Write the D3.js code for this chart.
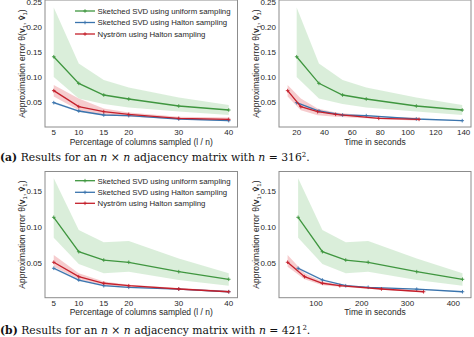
<!DOCTYPE html>
<html>
<head>
    <meta charset="UTF-8">
    <script src="https://d3js.org/d3.v7.min.js"></script>
    <style type="text/css">
        body { margin: 0; background: #fff; }
        svg text { font-family: "Liberation Sans", Arial, sans-serif; }
        svg text.caption { font-family: "DejaVu Serif", "Liberation Serif", serif; }
    </style>
</head>
<body>
<script type="text/javascript">
    // Percentage of columns sampled
    var pct = [5, 10, 15, 20, 30, 40];

    // --- n = 316^2 ---
    var aGreen    = [0.1405, 0.0873, 0.0640, 0.0560, 0.0420, 0.0340];
    var aGreenHi  = [0.2390, 0.1270, 0.0940, 0.0790, 0.0590, 0.0440];
    var aGreenLo  = [0.1000, 0.0570, 0.0460, 0.0390, 0.0310, 0.0240];
    var aBlue     = [0.0487, 0.0320, 0.0240, 0.0227, 0.0160, 0.0127];
    var aBlueHi   = [0.0510, 0.0340, 0.0255, 0.0240, 0.0170, 0.0137];
    var aBlueLo   = [0.0465, 0.0300, 0.0225, 0.0215, 0.0150, 0.0117];
    var aRed      = [0.0727, 0.0407, 0.0307, 0.0253, 0.0173, 0.0153];
    var aRedHi    = [0.0840, 0.0570, 0.0370, 0.0290, 0.0207, 0.0190];
    var aRedLo    = [0.0610, 0.0333, 0.0233, 0.0207, 0.0160, 0.0127];
    var aTimeSvd  = [20, 36, 53, 70, 106, 139];
    var aTimeNys  = [13.5, 23, 35, 48, 79, 108];

    // --- n = 421^2 ---
    var bGreen    = [0.1138, 0.0663, 0.0548, 0.0517, 0.0387, 0.0282];
    var bGreenHi  = [0.1677, 0.0963, 0.0793, 0.0810, 0.0570, 0.0364];
    var bGreenLo  = [0.0857, 0.0493, 0.0364, 0.0387, 0.0272, 0.0193];
    var bBlue     = [0.0434, 0.0272, 0.0193, 0.0171, 0.0145, 0.0110];
    var bBlueHi   = [0.0450, 0.0285, 0.0203, 0.0180, 0.0152, 0.0117];
    var bBlueLo   = [0.0418, 0.0259, 0.0183, 0.0162, 0.0138, 0.0103];
    var bRed      = [0.0517, 0.0318, 0.0227, 0.0193, 0.0148, 0.0110];
    var bRedHi    = [0.0617, 0.0364, 0.0250, 0.0206, 0.0160, 0.0125];
    var bRedLo    = [0.0456, 0.0282, 0.0199, 0.0180, 0.0138, 0.0102];
    var bTimeSvd  = [61, 114, 165, 214, 320, 420];
    var bTimeNys  = [38, 75, 114, 152, 243, 335];

    var seriesNames = ["Sketched SVD using uniform sampling",
                       "Sketched SVD using Halton sampling",
                       "Nyström using Halton sampling"];
    var lineColors = ["#3f963f", "#3a74ad", "#c41f2b"];
    var bandColors = ["#d3ebd3", "#c9d9ea", "#f5c3c6"];

    var pctTicks = [5, 10, 15, 20, 30, 40];
    var timeTicksA = [20, 40, 60, 80, 100, 120, 140];
    var timeTicksB = [100, 200, 300, 400];
    var errTicksA = [0.05, 0.10, 0.15, 0.20, 0.25];
    var errTicksB = [0.05, 0.10, 0.15];

    var svg = d3.select("body").append("svg")
        .attr("width", 474).attr("height", 337);

    function series(xs, xsNys, set) {
        return [
            { x: xs, y: set[0], hi: set[1], lo: set[2] },
            { x: xs, y: set[3], hi: set[4], lo: set[5] },
            { x: xsNys, y: set[6], hi: set[7], lo: set[8] }
        ];
    }

    var setA = [aGreen, aGreenHi, aGreenLo, aBlue, aBlueHi, aBlueLo, aRed, aRedHi, aRedLo];
    var setB = [bGreen, bGreenHi, bGreenLo, bBlue, bBlueHi, bBlueLo, bRed, bRedHi, bRedLo];

    var panels = [
        { left: 45, right: 237.5, top: 0, bottom: 127, xd: [3.25, 41.75], yd: [0, 0.254],
          xt: pctTicks, yt: errTicksA, xlabel: "Percentage of columns sampled (l / n)",
          data: series(pct, pct, setA), legend: true },
        { left: 279, right: 471, top: 0, bottom: 127, xd: [7.3, 145.3], yd: [0, 0.254],
          xt: timeTicksA, yt: errTicksA, xlabel: "Time in seconds",
          data: series(aTimeSvd, aTimeNys, setA), legend: false },
        { left: 45, right: 237.5, top: 171.5, bottom: 297.7, xd: [3.25, 41.75], yd: [0.00276, 0.1771],
          xt: pctTicks, yt: errTicksB, xlabel: "Percentage of columns sampled (l / n)",
          data: series(pct, pct, setB), legend: true },
        { left: 279, right: 471, top: 171.5, bottom: 297.7, xd: [19.2, 438.6], yd: [0.00276, 0.1771],
          xt: timeTicksB, yt: errTicksB, xlabel: "Time in seconds",
          data: series(bTimeSvd, bTimeNys, setB), legend: false }
    ];

    function plus(g, cx, cy, color) {
        g.append("path")
            .attr("d", "M" + (cx - 1.8) + "," + cy + "H" + (cx + 1.8) + "M" + cx + "," + (cy - 1.8) + "V" + (cy + 1.8))
            .attr("stroke", color).attr("stroke-width", 0.9).attr("fill", "none");
    }

    panels.forEach(function (p) {
        var x = d3.scaleLinear().domain(p.xd).range([p.left, p.right]);
        var y = d3.scaleLinear().domain(p.yd).range([p.bottom, p.top]);
        var g = svg.append("g");

        // bands
        p.data.forEach(function (s, i) {
            var idx = d3.range(s.x.length);
            var area = d3.area()
                .x(function (k) { return x(s.x[k]); })
                .y0(function (k) { return y(s.lo[k]); })
                .y1(function (k) { return y(s.hi[k]); });
            g.append("path").datum(idx)
                .attr("d", area)
                .attr("fill", bandColors[i])
                .attr("fill-opacity", i == 1 ? 0.6 : 0.85);
        });

        // lines + markers
        p.data.forEach(function (s, i) {
            var idx = d3.range(s.x.length);
            var line = d3.line()
                .x(function (k) { return x(s.x[k]); })
                .y(function (k) { return y(s.y[k]); });
            g.append("path").datum(idx)
                .attr("d", line)
                .attr("fill", "none")
                .attr("stroke", lineColors[i])
                .attr("stroke-width", 1.3);
            idx.forEach(function (k) { plus(g, x(s.x[k]), y(s.y[k]), lineColors[i]); });
        });

        // frame
        g.append("rect")
            .attr("x", p.left).attr("y", p.top)
            .attr("width", p.right - p.left).attr("height", p.bottom - p.top)
            .attr("fill", "none").attr("stroke", "#8c8c8c").attr("stroke-width", 1);

        // x ticks
        var xAxis = g.append("g");
        p.xt.forEach(function (t) {
            xAxis.append("text")
                .attr("x", x(t)).attr("y", p.bottom + 7.8)
                .attr("text-anchor", "middle")
                .attr("font-size", "8px").attr("fill", "#262626")
                .text(t);
        });
        // y ticks
        p.yt.forEach(function (t) {
            g.append("text")
                .attr("x", p.left - 3).attr("y", y(t) + 2.9)
                .attr("text-anchor", "end")
                .attr("font-size", "8px").attr("fill", "#262626")
                .text(d3.format(".2f")(t));
        });

        // axis labels
        g.append("text")
            .attr("x", (p.left + p.right) / 2).attr("y", p.bottom + 17.5)
            .attr("text-anchor", "middle")
            .attr("font-size", "8.5px").attr("fill", "#262626")
            .text(p.xlabel);

        var cy = (p.top + p.bottom) / 2;
        var yl = g.append("text")
            .attr("transform", "translate(" + (p.left - 20) + "," + cy + ") rotate(-90)")
            .attr("text-anchor", "middle")
            .attr("font-size", "8.5px").attr("fill", "#262626");
        yl.append("tspan").text("Approximation error  θ(");
        yl.append("tspan").attr("font-weight", "bold").text("v");
        yl.append("tspan").attr("font-size", "6px").attr("dy", 2).text("1");
        yl.append("tspan").attr("dy", -2).text(", ");
        yl.append("tspan").attr("font-weight", "bold").text("v\u0302");
        yl.append("tspan").attr("font-size", "6px").attr("dy", 2).text("1");
        yl.append("tspan").attr("dy", -2).text(")");

        // legend
        if (p.legend) {
            var rows = [p.top + 11, p.top + 22.5, p.top + 34];
            if (p.top > 0) rows = [p.top + 9.2, p.top + 20.8, p.top + 31.8];
            seriesNames.forEach(function (name, i) {
                g.append("line")
                    .attr("x1", 75).attr("x2", 95)
                    .attr("y1", rows[i]).attr("y2", rows[i])
                    .attr("stroke", lineColors[i]).attr("stroke-width", 1.3);
                plus(g, 85, rows[i], lineColors[i]);
                g.append("text")
                    .attr("x", 97.5).attr("y", rows[i] + 2.8)
                    .attr("font-size", "7.8px").attr("fill", "#262626")
                    .text(name);
            });
        }
    });

    // captions
    function caption(yPos, tag, n) {
        var t = svg.append("text")
            .attr("class", "caption")
            .attr("x", 0).attr("y", yPos)
            .attr("font-size", "10.8px").attr("fill", "#111");
        t.append("tspan").attr("font-weight", "bold").text("(" + tag + ")");
        t.append("tspan").text(" Results for an ");
        t.append("tspan").attr("font-style", "italic").text("n");
        t.append("tspan").text(" × ");
        t.append("tspan").attr("font-style", "italic").text("n");
        t.append("tspan").text(" adjacency matrix with ");
        t.append("tspan").attr("font-style", "italic").text("n");
        t.append("tspan").text(" = " + n);
        t.append("tspan").attr("font-size", "7px").attr("dy", -4).text("2");
        t.append("tspan").attr("dy", 4).text(".");
    }
    caption(160.5, "a", 316);
    caption(334, "b", 421);
</script>
</body>
</html>
